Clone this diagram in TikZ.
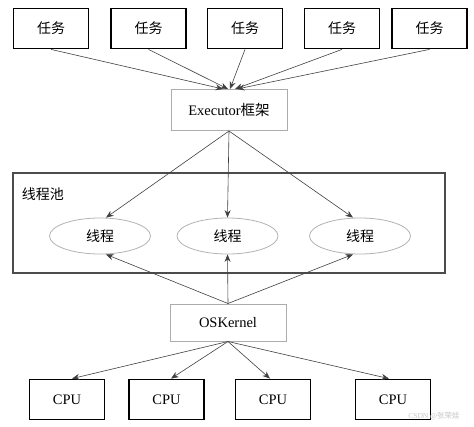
\documentclass[tikz,border=0pt]{standalone}
\usepackage{fontspec}
\setmainfont{Liberation Serif}
\newfontfamily\cjk{Noto Sans CJK SC}
\usetikzlibrary{arrows.meta, positioning, shapes.geometric}

\begin{document}
\begin{tikzpicture}[
        x=1pt, y=-1pt,
        >={Stealth[length=7.5pt, width=6pt]},
        task/.style={
            draw,
            line width=1.8pt,
            minimum width=75pt,
            minimum height=40pt,
            font=\fontsize{14}{16}\selectfont\cjk
        },
        cpu/.style={
            task,
            font=\fontsize{14.5}{16}\selectfont
        },
        frame/.style={
            draw=gray!65,
            line width=1pt,
            minimum width=116pt,
            minimum height=41pt,
            font=\fontsize{14.5}{16}\selectfont
        },
        thread/.style={
            ellipse,
            draw=gray!60,
            line width=0.8pt,
            minimum width=101pt,
            minimum height=36pt,
            font=\fontsize{14}{16}\selectfont\cjk
        },
        arr/.style={
            ->,
            draw=black!75,
            line width=0.6pt
        }
    ]
        \useasboundingbox (0,0) rectangle (474,426);

        % tasks
        \node[task] (task1) at (51,28.5) {任务};
        \node[task] (task2) at (148.5,28.5) {任务};
        \node[task] (task3) at (245,28.5) {任务};
        \node[task] (task4) at (342,28.5) {任务};
        \node[task] (task5) at (429.5,28.5) {任务};

        \node[frame] (exec) at (229,110) {Executor{\cjk 框架}};

        % thread pool
        \node[draw=black!70, line width=1.4pt, minimum width=432pt,
              minimum height=100pt] (pool) at (229,223) {};
        \node[anchor=west, font=\fontsize{14}{16}\selectfont\cjk]
              (poollabel) at ([xshift=6pt, yshift=-22pt]pool.north west) {线程池};

        \node[thread] (th1) at (100,236) {线程};
        \node[thread] (th2) at (227.5,236) {线程};
        \node[thread] (th3) at (360,236) {线程};

        \node[frame, minimum height=37pt] (kernel) at (228,322.5) {OSKernel};

        % cpus
        \node[cpu] (cpu1) at (67,399.5) {CPU};
        \node[cpu] (cpu2) at (166.5,399.5) {CPU};
        \node[cpu] (cpu3) at (273,399.5) {CPU};
        \node[cpu] (cpu4) at (393,399.5) {CPU};

        \draw[arr] (task1.south) -- ([xshift=-6pt]exec.north);
        \draw[arr] (task2.south) -- ([xshift=-1pt]exec.north);
        \draw[arr] (task3.south) -- ([xshift=1pt]exec.north);
        \draw[arr] (task4.south) -- ([xshift=6pt]exec.north);
        \draw[arr] (task5.south) -- ([xshift=8pt]exec.north);

        \draw[arr] (exec.south) -- ([xshift=6pt]th1.north);
        \draw[arr] (exec.south) -- (th2.north);
        \draw[arr] (exec.south) -- ([xshift=-7pt]th3.north);

        \draw[arr] (kernel.north) -- ([xshift=6pt]th1.south);
        \draw[arr] (kernel.north) -- (th2.south);
        \draw[arr] (kernel.north) -- ([xshift=-7pt]th3.south);

        \draw[arr] (kernel.south) -- ([xshift=5pt]cpu1.north);
        \draw[arr] (kernel.south) -- ([xshift=4.5pt]cpu2.north);
        \draw[arr] (kernel.south) -- ([xshift=-3pt]cpu3.north);
        \draw[arr] (kernel.south) -- ([xshift=-4pt]cpu4.north);

        \node[text=gray!45, font=\fontsize{7.5}{9}\selectfont] (mark)
              at (434,416) {CSDN @{\cjk 张荣娃}};
    \end{tikzpicture}
\end{document}
